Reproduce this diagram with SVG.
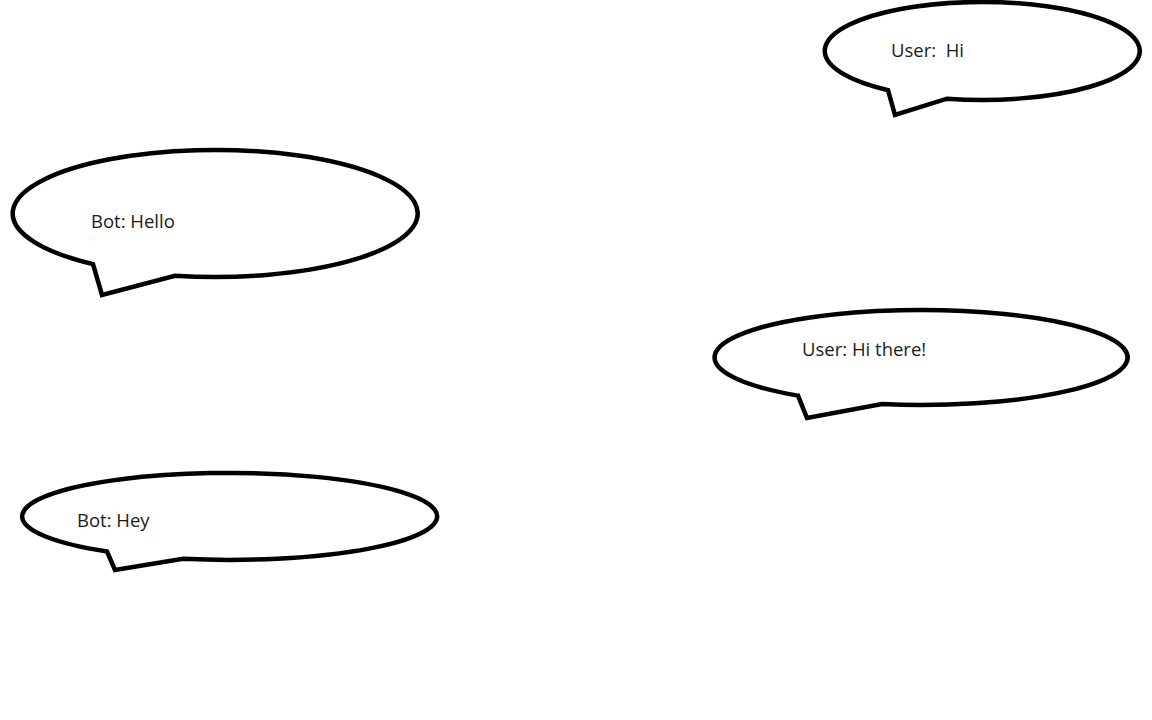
<svg xmlns="http://www.w3.org/2000/svg" width="1152" height="720" viewBox="0 0 1152 720">
<style>
.bubble{fill:#fff;stroke:#000;stroke-width:4.5;stroke-linejoin:miter}
.t{font-family:"Open Sans","Noto Sans","Liberation Sans",sans-serif;font-size:18.5px;fill:#1a1a1a;white-space:pre}
</style>
<rect width="1152" height="720" fill="#fff"/>
<g id="user-hi">
<path class="bubble" d="M947 98.7 A157.5 49 0 1 0 888 90.2 L895 115 Z"/>
<text class="t" x="891" y="57" xml:space="preserve">User:  Hi</text>
</g>
<g id="bot-hello">
<path class="bubble" d="M175 275.7 A202.5 63.5 0 1 0 93 264.1 L102 295 Z"/>
<text class="t" x="91" y="228">Bot: Hello</text>
</g>
<g id="user-hi-there">
<path class="bubble" d="M882 404.1 A206.5 47.5 0 1 0 798 395.6 L807 418 Z"/>
<text class="t" x="802" y="356">User: Hi there!</text>
</g>
<g id="bot-hey">
<path class="bubble" d="M183 558.8 A207.5 43.5 0 1 0 107 551.5 L115 570 Z"/>
<text class="t" x="77" y="527">Bot: Hey</text>
</g>
<g id="connectors"/>
</svg>
